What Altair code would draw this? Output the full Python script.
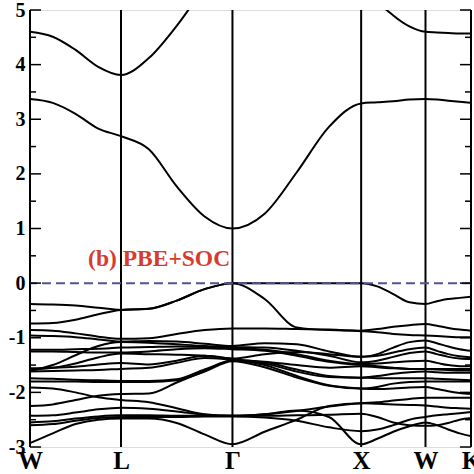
import altair as alt
import pandas as pd

# High-symmetry path W-L-Γ-X-W-K (k in units of 2π/a)
sym_labels = ["W", "L", "Γ", "X", "W", "K"]
sym_k = [0.0, 0.7071, 1.5731, 2.5731, 3.0731, 3.4267]

# sampling points along the path (4 per segment)
k_grid = [0.0, 0.1768, 0.3536, 0.5303, 0.7071,
          0.9236, 1.1401, 1.3566, 1.5731,
          1.8231, 2.0731, 2.3231, 2.5731,
          2.6981, 2.8231, 2.9481, 3.0731,
          3.1615, 3.2499, 3.3383, 3.4267]

# band energies (eV) read at k_grid
c2 = [4.60, 4.51, 4.27, 3.96, 3.81, 4.12, 4.71, 5.40, 5.90, 6.10, 6.20, 6.10, 5.70, 5.18, 4.90, 4.70, 4.60, 4.59, 4.58, 4.57, 4.57]
c1 = [3.37, 3.30, 3.10, 2.83, 2.69, 2.45, 1.77, 1.22, 1.00, 1.27, 2.03, 2.86, 3.29, 3.31, 3.33, 3.36, 3.37, 3.36, 3.34, 3.32, 3.30]
v1 = [-0.38, -0.39, -0.41, -0.45, -0.49, -0.47, -0.32, -0.11, 0.00, 0.00, 0.00, 0.00, 0.00, -0.06, -0.20, -0.35, -0.38, -0.33, -0.29, -0.27, -0.25]
v2 = [-0.74, -0.73, -0.67, -0.57, -0.49, -0.47, -0.32, -0.11, 0.00, -0.29, -0.81, -0.86, -0.87, -0.84, -0.80, -0.77, -0.75, -0.78, -0.82, -0.85, -0.87]
v3 = [-0.86, -0.87, -0.92, -0.98, -1.02, -1.01, -0.93, -0.86, -0.83, -0.83, -0.84, -0.85, -0.88, -0.90, -0.93, -0.95, -0.96, -0.97, -0.98, -0.99, -0.99]
v4 = [-0.96, -0.97, -0.99, -1.03, -1.07, -1.06, -1.07, -1.11, -1.15, -1.10, -1.12, -1.25, -1.35, -1.30, -1.18, -1.08, -1.05, -1.10, -1.16, -1.21, -1.24]
m2 = [-1.61, -1.50, -1.32, -1.15, -1.08, -1.09, -1.12, -1.15, -1.17, -1.18, -1.24, -1.33, -1.45, -1.42, -1.35, -1.28, -1.25, -1.30, -1.35, -1.38, -1.39]
m3 = [-1.22, -1.22, -1.21, -1.20, -1.18, -1.17, -1.16, -1.17, -1.19, -1.22, -1.30, -1.42, -1.48, -1.47, -1.45, -1.43, -1.42, -1.46, -1.50, -1.52, -1.52]
m4 = [-1.25, -1.25, -1.26, -1.27, -1.27, -1.25, -1.21, -1.19, -1.21, -1.24, -1.33, -1.44, -1.50, -1.52, -1.55, -1.57, -1.57, -1.57, -1.57, -1.57, -1.57]
m5 = [-1.58, -1.55, -1.47, -1.36, -1.29, -1.30, -1.31, -1.33, -1.38, -1.30, -1.26, -1.30, -1.35, -1.33, -1.27, -1.21, -1.18, -1.24, -1.30, -1.34, -1.36]
m6 = [-1.56, -1.55, -1.53, -1.49, -1.46, -1.49, -1.42, -1.33, -1.39, -1.50, -1.70, -1.87, -1.93, -1.94, -1.93, -1.91, -1.90, -1.94, -1.98, -2.01, -2.03]
m7 = [-1.62, -1.61, -1.60, -1.59, -1.57, -1.55, -1.46, -1.37, -1.40, -1.44, -1.50, -1.55, -1.52, -1.54, -1.56, -1.57, -1.57, -1.58, -1.59, -1.60, -1.60]
m8 = [-1.74, -1.75, -1.77, -1.78, -1.79, -1.79, -1.76, -1.58, -1.42, -1.47, -1.62, -1.72, -1.73, -1.74, -1.74, -1.74, -1.74, -1.75, -1.76, -1.77, -1.78]
m9 = [-1.80, -1.80, -1.80, -1.81, -1.81, -1.81, -1.78, -1.62, -1.43, -1.54, -1.73, -1.88, -1.93, -1.90, -1.84, -1.81, -1.80, -1.80, -1.80, -1.80, -1.80]
s1 = [-2.25, -2.22, -2.14, -2.06, -2.03, -2.02, -1.82, -1.61, -1.41, -1.45, -1.58, -1.70, -1.73, -1.70, -1.66, -1.63, -1.62, -1.63, -1.64, -1.64, -1.64]
l1 = [-1.91, -1.93, -2.00, -2.09, -2.14, -2.18, -2.29, -2.40, -2.43, -2.40, -2.33, -2.45, -2.95, -2.85, -2.72, -2.62, -2.55, -2.60, -2.68, -2.75, -2.80]
l2 = [-2.43, -2.42, -2.37, -2.31, -2.28, -2.30, -2.35, -2.41, -2.43, -2.40, -2.34, -2.26, -2.20, -2.18, -2.15, -2.12, -2.10, -2.10, -2.10, -2.10, -2.10]
l3 = [-2.55, -2.53, -2.48, -2.44, -2.42, -2.42, -2.43, -2.43, -2.43, -2.43, -2.42, -2.41, -2.39, -2.45, -2.55, -2.60, -2.61, -2.60, -2.56, -2.50, -2.47]
l4 = [-2.60, -2.58, -2.52, -2.47, -2.45, -2.45, -2.45, -2.44, -2.44, -2.46, -2.52, -2.64, -2.71, -2.68, -2.60, -2.50, -2.45, -2.42, -2.40, -2.38, -2.36]
l5 = [-2.93, -2.75, -2.58, -2.50, -2.48, -2.48, -2.56, -2.77, -2.95, -2.72, -2.50, -2.25, -2.20, -2.21, -2.22, -2.23, -2.24, -2.26, -2.28, -2.29, -2.30]

bands = {"c2": c2, "c1": c1, "v1": v1, "v2": v2, "v3": v3, "v4": v4,
         "m2": m2, "m3": m3, "m4": m4, "m5": m5, "m6": m6, "m7": m7,
         "m8": m8, "m9": m9, "s1": s1, "l1": l1, "l2": l2, "l3": l3,
         "l4": l4, "l5": l5}

y_ticks_major = [-3, -2, -1, 0, 1, 2, 3, 4, 5]
y_ticks_minor = [-2.5, -1.5, -0.5, 0.5, 1.5, 2.5, 3.5, 4.5]
fermi = [0.0]
annot_text = ["(b) PBE+SOC"]
annot_k = [1.555]
annot_e = [0.45]

rows = []
for name, vals in bands.items():
    for k, e in zip(k_grid, vals):
        rows.append({"band": name, "k": k, "E": e})
df = pd.DataFrame(rows)

W, H = 441, 437
serif = "Liberation Serif"
xscale = alt.Scale(domain=[sym_k[0], sym_k[-1]], nice=False, zero=False)
yscale = alt.Scale(domain=[-3, 5], nice=False, zero=False)

# label expression for high-symmetry points
parts = []
for i in range(len(sym_k) - 1):
    mid = (sym_k[i] + sym_k[i + 1]) / 2
    parts.append(f"datum.value < {mid:.4f} ? '{sym_labels[i]}' : ")
x_label_expr = "".join(parts) + f"'{sym_labels[-1]}'"

x_axis = alt.Axis(values=sym_k, labelExpr=x_label_expr, title=None, ticks=False,
                  domain=False, grid=False, labelFont=serif, labelFontWeight="bold",
                  labelFontSize=25, labelColor="black", labelPadding=1,
                  labelOverlap=False, labelFlush=False, labelBound=False)
y_axis = alt.Axis(values=y_ticks_major,
                  labelExpr="datum.value < 0 ? '-' + abs(datum.value) : '' + datum.value",
                  title=None, ticks=False, domain=False, grid=False, labelFont=serif,
                  labelFontWeight="bold", labelFontSize=20, labelColor="black",
                  labelPadding=5, labelOverlap=False, labelFlush=False, labelBound=False)

band_chart = alt.Chart(df).mark_line(interpolate="monotone", clip=True, color="black",
                                     strokeWidth=2).encode(
    x=alt.X("k:Q", scale=xscale, axis=x_axis),
    y=alt.Y("E:Q", scale=yscale, axis=y_axis),
    detail="band:N",
)

vlines = alt.Chart(pd.DataFrame({"k": sym_k})).mark_rule(color="black", strokeWidth=2).encode(
    x=alt.X("k:Q", scale=xscale)
)

fermi_line = alt.Chart(pd.DataFrame({"E": fermi})).mark_rule(
    color="#52529a", strokeWidth=2, strokeDash=[9, 5]).encode(
    y=alt.Y("E:Q", scale=yscale)
)

major_df = pd.DataFrame({"E": y_ticks_major})
minor_df = pd.DataFrame({"E": y_ticks_minor})
tick_layers = [
    alt.Chart(major_df).mark_rule(color="black", strokeWidth=1.5).encode(
        y=alt.Y("E:Q", scale=yscale), x=alt.value(0), x2=alt.value(11)),
    alt.Chart(major_df).mark_rule(color="black", strokeWidth=1.5).encode(
        y=alt.Y("E:Q", scale=yscale), x=alt.value(W - 11), x2=alt.value(W)),
    alt.Chart(minor_df).mark_rule(color="black", strokeWidth=1.5).encode(
        y=alt.Y("E:Q", scale=yscale), x=alt.value(0), x2=alt.value(6)),
    alt.Chart(minor_df).mark_rule(color="black", strokeWidth=1.5).encode(
        y=alt.Y("E:Q", scale=yscale), x=alt.value(W - 6), x2=alt.value(W)),
]

annot = alt.Chart(pd.DataFrame({"t": annot_text, "k": annot_k, "E": annot_e})).mark_text(
    font=serif, fontWeight="bold", fontSize=23.5, color="#d63c2e", align="right",
    baseline="middle").encode(
    x=alt.X("k:Q", scale=xscale), y=alt.Y("E:Q", scale=yscale), text="t:N")

chart = alt.layer(band_chart, vlines, fermi_line, *tick_layers, annot).properties(
    width=W, height=H,
    padding={"left": 30, "top": 10, "right": 3, "bottom": 27},
    autosize="none",
).configure_view(stroke="black", strokeWidth=2.5).configure(background="white")

chart.save("out.html", embed_options={"renderer": "svg", "actions": False})
